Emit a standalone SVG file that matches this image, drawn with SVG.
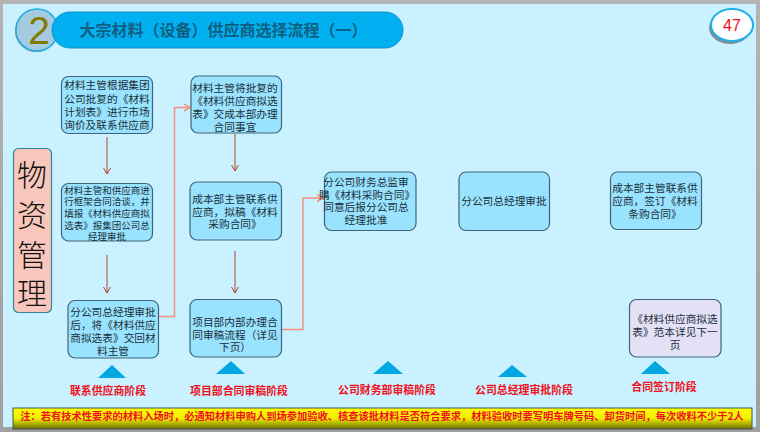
<svg xmlns="http://www.w3.org/2000/svg" width="760" height="432" viewBox="0 0 760 432">
<style>
text{font-family:"Noto Sans CJK SC","Liberation Sans",sans-serif;text-anchor:middle}
.n rect{fill:#99e3ff;stroke:#3f6678;stroke-width:1.2}
.n text{font-size:10.700px;fill:#1c2f38}
.n text.s{font-size:9.500px}
.tri{fill:#00a7e0}
.lab{font-size:10.900px;font-weight:700;fill:#f01020}
.red{fill:none;stroke:#b8422e;stroke-width:1}
.sal{fill:none;stroke:#f4907c;stroke-width:1.500}
</style>
<defs>
<marker id="ar" markerWidth="10" markerHeight="10" refX="7" refY="4" orient="auto" markerUnits="userSpaceOnUse"><path d="M1 0.500L7 4L1 7.500" fill="none" stroke="#b8422e" stroke-width="1"/></marker>
<marker id="as" markerWidth="10" markerHeight="10" refX="7" refY="4" orient="auto" markerUnits="userSpaceOnUse"><path d="M1 0.500L7 4L1 7.500" fill="none" stroke="#f4907c" stroke-width="1.500"/></marker>
<linearGradient id="bar" x1="0" y1="0" x2="0" y2="1"><stop offset="0" stop-color="#ffff00"/><stop offset="0.5" stop-color="#eeee00"/><stop offset="1" stop-color="#6f6f00"/></linearGradient>
<linearGradient id="frame" x1="0" y1="0" x2="0" y2="1"><stop offset="0" stop-color="#b4b4b4"/><stop offset="1" stop-color="#a0a0a0"/></linearGradient>
</defs>
<rect width="760" height="432" fill="url(#frame)"/>
<rect x="3" y="4" width="753" height="423" fill="#c9f1ff"/>
<g id="header">
<circle cx="36" cy="31" r="21" fill="#8a8a8a"/>
<circle cx="37" cy="30" r="21" fill="#a6cbe0" stroke="#1eb0e4" stroke-width="1.500"/>
<text x="39" y="44" style="font-family:'Liberation Sans',sans-serif;font-size:39px;fill:#857a00">2</text>
<rect x="52" y="12" width="351" height="36" rx="18" fill="#00b0f0" stroke="#1593c4"/>
<text x="223.500" y="36" style="font-size:16px;font-weight:700;fill:#0f5f82">大宗材料（设备）供应商选择流程（一）</text>
</g>
<g id="page-number">
<ellipse cx="730" cy="28" rx="21" ry="16" fill="#7f8f98"/>
<ellipse cx="732" cy="25" rx="21" ry="16" fill="#fff" stroke="#1eb0e4" stroke-width="2"/>
<text x="732" y="31" style="font-family:'Liberation Sans',sans-serif;font-size:16px;fill:#f01020">47</text>
</g>
<g id="side-title">
<rect x="13.500" y="148.500" width="38" height="164" rx="5" fill="#f9c6bb" stroke="#2f8798" stroke-width="1.200"/>
<g style="font-size:30px;font-weight:300;fill:#111">
<text x="32" y="186">物</text><text x="32" y="226">资</text><text x="32" y="266">管</text><text x="32" y="304">理</text>
</g>
</g>
<g id="connectors">
<path class="red" d="M107 137V174" marker-end="url(#ar)"/>
<path class="red" d="M107 255V293" marker-end="url(#ar)"/>
<path class="red" d="M235 134V171" marker-end="url(#ar)"/>
<path class="red" d="M235 251V293" marker-end="url(#ar)"/>
<path class="sal" d="M159 316.500H174.500V107.500H190" marker-end="url(#as)"/>
<path class="sal" d="M281 329.500H303V198H323" marker-end="url(#as)"/>
</g>
<g id="n1" class="n"><rect x="61.500" y="76.500" width="91" height="57" rx="7"/>
<text x="107" y="89">材料主管根据集团</text><text x="107" y="103">公司批复的《材料</text><text x="107" y="116">计划表》进行市场</text><text x="107" y="129">询价及联系供应商</text></g>
<g id="n2" class="n"><rect x="61.500" y="183.500" width="91" height="57.500" rx="7"/>
<text class="s" x="107" y="194">材料主管和供应商进</text><text class="s" x="107" y="205">行框架合同洽谈，并</text><text class="s" x="107" y="217">填报《材料供应商拟</text><text class="s" x="107" y="229">选表》报集团公司总</text><text class="s" x="107" y="240">经理审批</text></g>
<g id="n3" class="n"><rect x="68" y="300.500" width="90.500" height="57.500" rx="7"/>
<text x="113" y="316">分公司总经理审批</text><text x="113" y="329">后，将《材料供应</text><text x="113" y="342">商拟选表》交回材</text><text x="113" y="355">料主管</text></g>
<g id="n4" class="n"><rect x="191" y="76" width="90.500" height="57" rx="7"/>
<text x="235" y="92">材料主管将批复的</text><text x="235" y="105">《材料供应商拟选</text><text x="235" y="118">表》交成本部办理</text><text x="235" y="131">合同事宜</text></g>
<g id="n5" class="n"><rect x="190" y="182" width="91.500" height="58" rx="7"/>
<text x="235" y="203">成本部主管联系供</text><text x="235" y="216">应商，拟稿《材料</text><text x="235" y="228">采购合同》</text></g>
<g id="n6" class="n"><rect x="190" y="299.500" width="91.500" height="57.500" rx="7"/>
<text x="235" y="326">项目部内部办理合</text><text x="235" y="339">同审稿流程（详见</text><text x="235" y="351">下页）</text></g>
<g id="n7" class="n"><rect x="324.500" y="172" width="91.500" height="58.500" rx="7"/>
<text x="366" y="186">分公司财务总监审</text><text x="367" y="199">購《材料采购合同》</text><text x="366" y="211">同意后报分公司总</text><text x="366" y="224">经理批准</text></g>
<g id="n8" class="n"><rect x="459" y="172" width="90.500" height="58.500" rx="7"/>
<text x="504" y="205">分公司总经理审批</text></g>
<g id="n9" class="n"><rect x="610.500" y="172" width="91" height="57.500" rx="7"/>
<text x="655" y="192">成本部主管联系供</text><text x="655" y="205">应商，签订《材料</text><text x="655" y="218">条购合同》</text></g>
<g id="n10" class="n"><rect x="629.500" y="299.500" width="91.500" height="57.500" rx="7" style="fill:#e4e1f7"/>
<text x="675" y="323">《材料供应商拟选</text><text x="675" y="336">表》范本详见下一</text><text x="675" y="349">页</text></g>
<g id="stages">
<path class="tri" d="M98 378L112 365L126 378Z"/>
<path class="tri" d="M216 374L231 361L245 374Z"/>
<path class="tri" d="M373 374L388 361L403 374Z"/>
<path class="tri" d="M498 377L512 365L527 377Z"/>
<path class="tri" d="M641 374L655 361L670 374Z"/>
<text class="lab" x="108" y="395">联系供应商阶段</text>
<text class="lab" x="239" y="395">项目部合同审稿阶段</text>
<text class="lab" x="387" y="394">公司财务部审稿阶段</text>
<text class="lab" x="524" y="394">公司总经理审批阶段</text>
<text class="lab" x="664" y="391">合同签订阶段</text>
</g>
<g id="note">
<rect x="13" y="408" width="739" height="21" fill="url(#bar)" stroke="#44525a"/>
<text x="382" y="420" style="font-size:10.250px;font-weight:700;fill:#f01020">注：若有技术性要求的材料入场时，必通知材料申购人到场参加验收、核查该批材料是否符合要求，材料验收时要写明车牌号码、卸货时间，每次收料不少于2人</text>
</g>
</svg>
